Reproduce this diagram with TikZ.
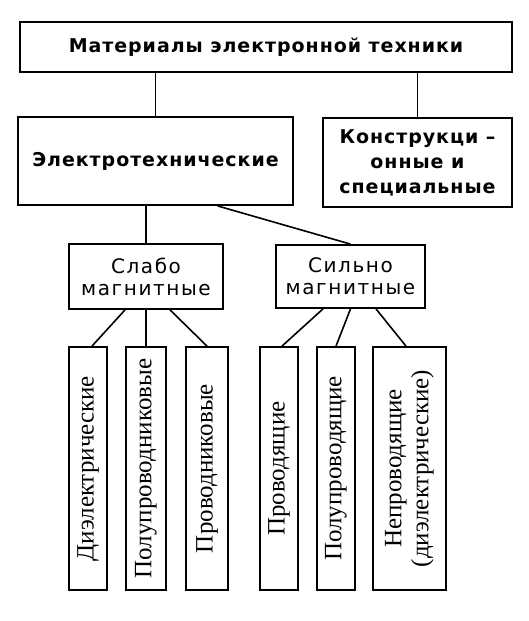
\documentclass[tikz,border=0pt]{standalone}
\usepackage{fontspec}
\usepackage{graphicx}
\usepackage{tikz}
\setmainfont{Liberation Serif}
\newfontfamily\boxfont[LetterSpace=8]{DejaVu Sans}
\newfontfamily\headfont[LetterSpace=5]{DejaVu Sans Bold}

\tikzset{
    box/.style={draw, line width=1.8pt, inner sep=0pt, align=center,
        font=\boxfont\fontsize{20}{22}\selectfont},
    head/.style={box, font=\headfont\fontsize{19}{25}\selectfont},
    leaf/.style={draw, line width=1.8pt, inner sep=0pt, minimum height=243,
        font=\fontsize{25}{27}\selectfont},
    link/.style={line width=1.6pt}
}

\begin{document}
\begin{tikzpicture}[x=1pt, y=-1pt]
    \useasboundingbox (0,0) rectangle (528,621);
    \node[head, minimum width=492, minimum height=50] (mat) at (266,47) {Материалы электронной техники};
    \node[head, minimum width=275, minimum height=88] (el) at (155.5,161) {Электротехнические};
    \node[head, minimum width=189, minimum height=89] (kon) at (417.5,162.5) {Конструкци –\\онные и\\специальные};
    \node[box, minimum width=154, minimum height=65] (slab) at (146,276.5) {Слабо\\магнитные};
    \node[box, minimum width=149, minimum height=63] (siln) at (350.5,276.5) {Сильно\\магнитные};
    \node[leaf, minimum width=38] (diel) at (88,468.5) {\rotatebox{90}{Диэлектрические}};
    \node[leaf, minimum width=40] (ppk) at (146,468.5) {\rotatebox{90}{Полупроводниковые}};
    \node[leaf, minimum width=42] (prk) at (207,468.5) {\rotatebox{90}{Проводниковые}};
    \node[leaf, minimum width=38] (prv) at (279,468.5) {\rotatebox{90}{Проводящие}};
    \node[leaf, minimum width=38] (ppv) at (336,468.5) {\rotatebox{90}{Полупроводящие}};
    \node[leaf, minimum width=73] (npv) at (409.5,468.5) {\rotatebox{90}{\begin{tabular}{@{}c@{}}Непроводящие\\(диэлектрические)\end{tabular}}};

    \draw[link] (el.north) -- (el.north |- mat.south);
    \draw[link] (kon.north) -- (kon.north |- mat.south);
    \draw[link] (slab.north) -- (slab.north |- el.south);
    \draw[link] ([xshift=62]el.south) -- (siln.north);
    \draw[link] ([xshift=-21]slab.south) -- ([xshift=4]diel.north);
    \draw[link] (slab.south) -- (ppk.north);
    \draw[link] ([xshift=24]slab.south) -- (prk.north);
    \draw[link] ([xshift=-27.5]siln.south) -- ([xshift=3]prv.north);
    \draw[link] (siln.south) -- (ppv.north);
    \draw[link] ([xshift=25.5]siln.south) -- ([xshift=-3.5]npv.north);
\end{tikzpicture}
\end{document}
